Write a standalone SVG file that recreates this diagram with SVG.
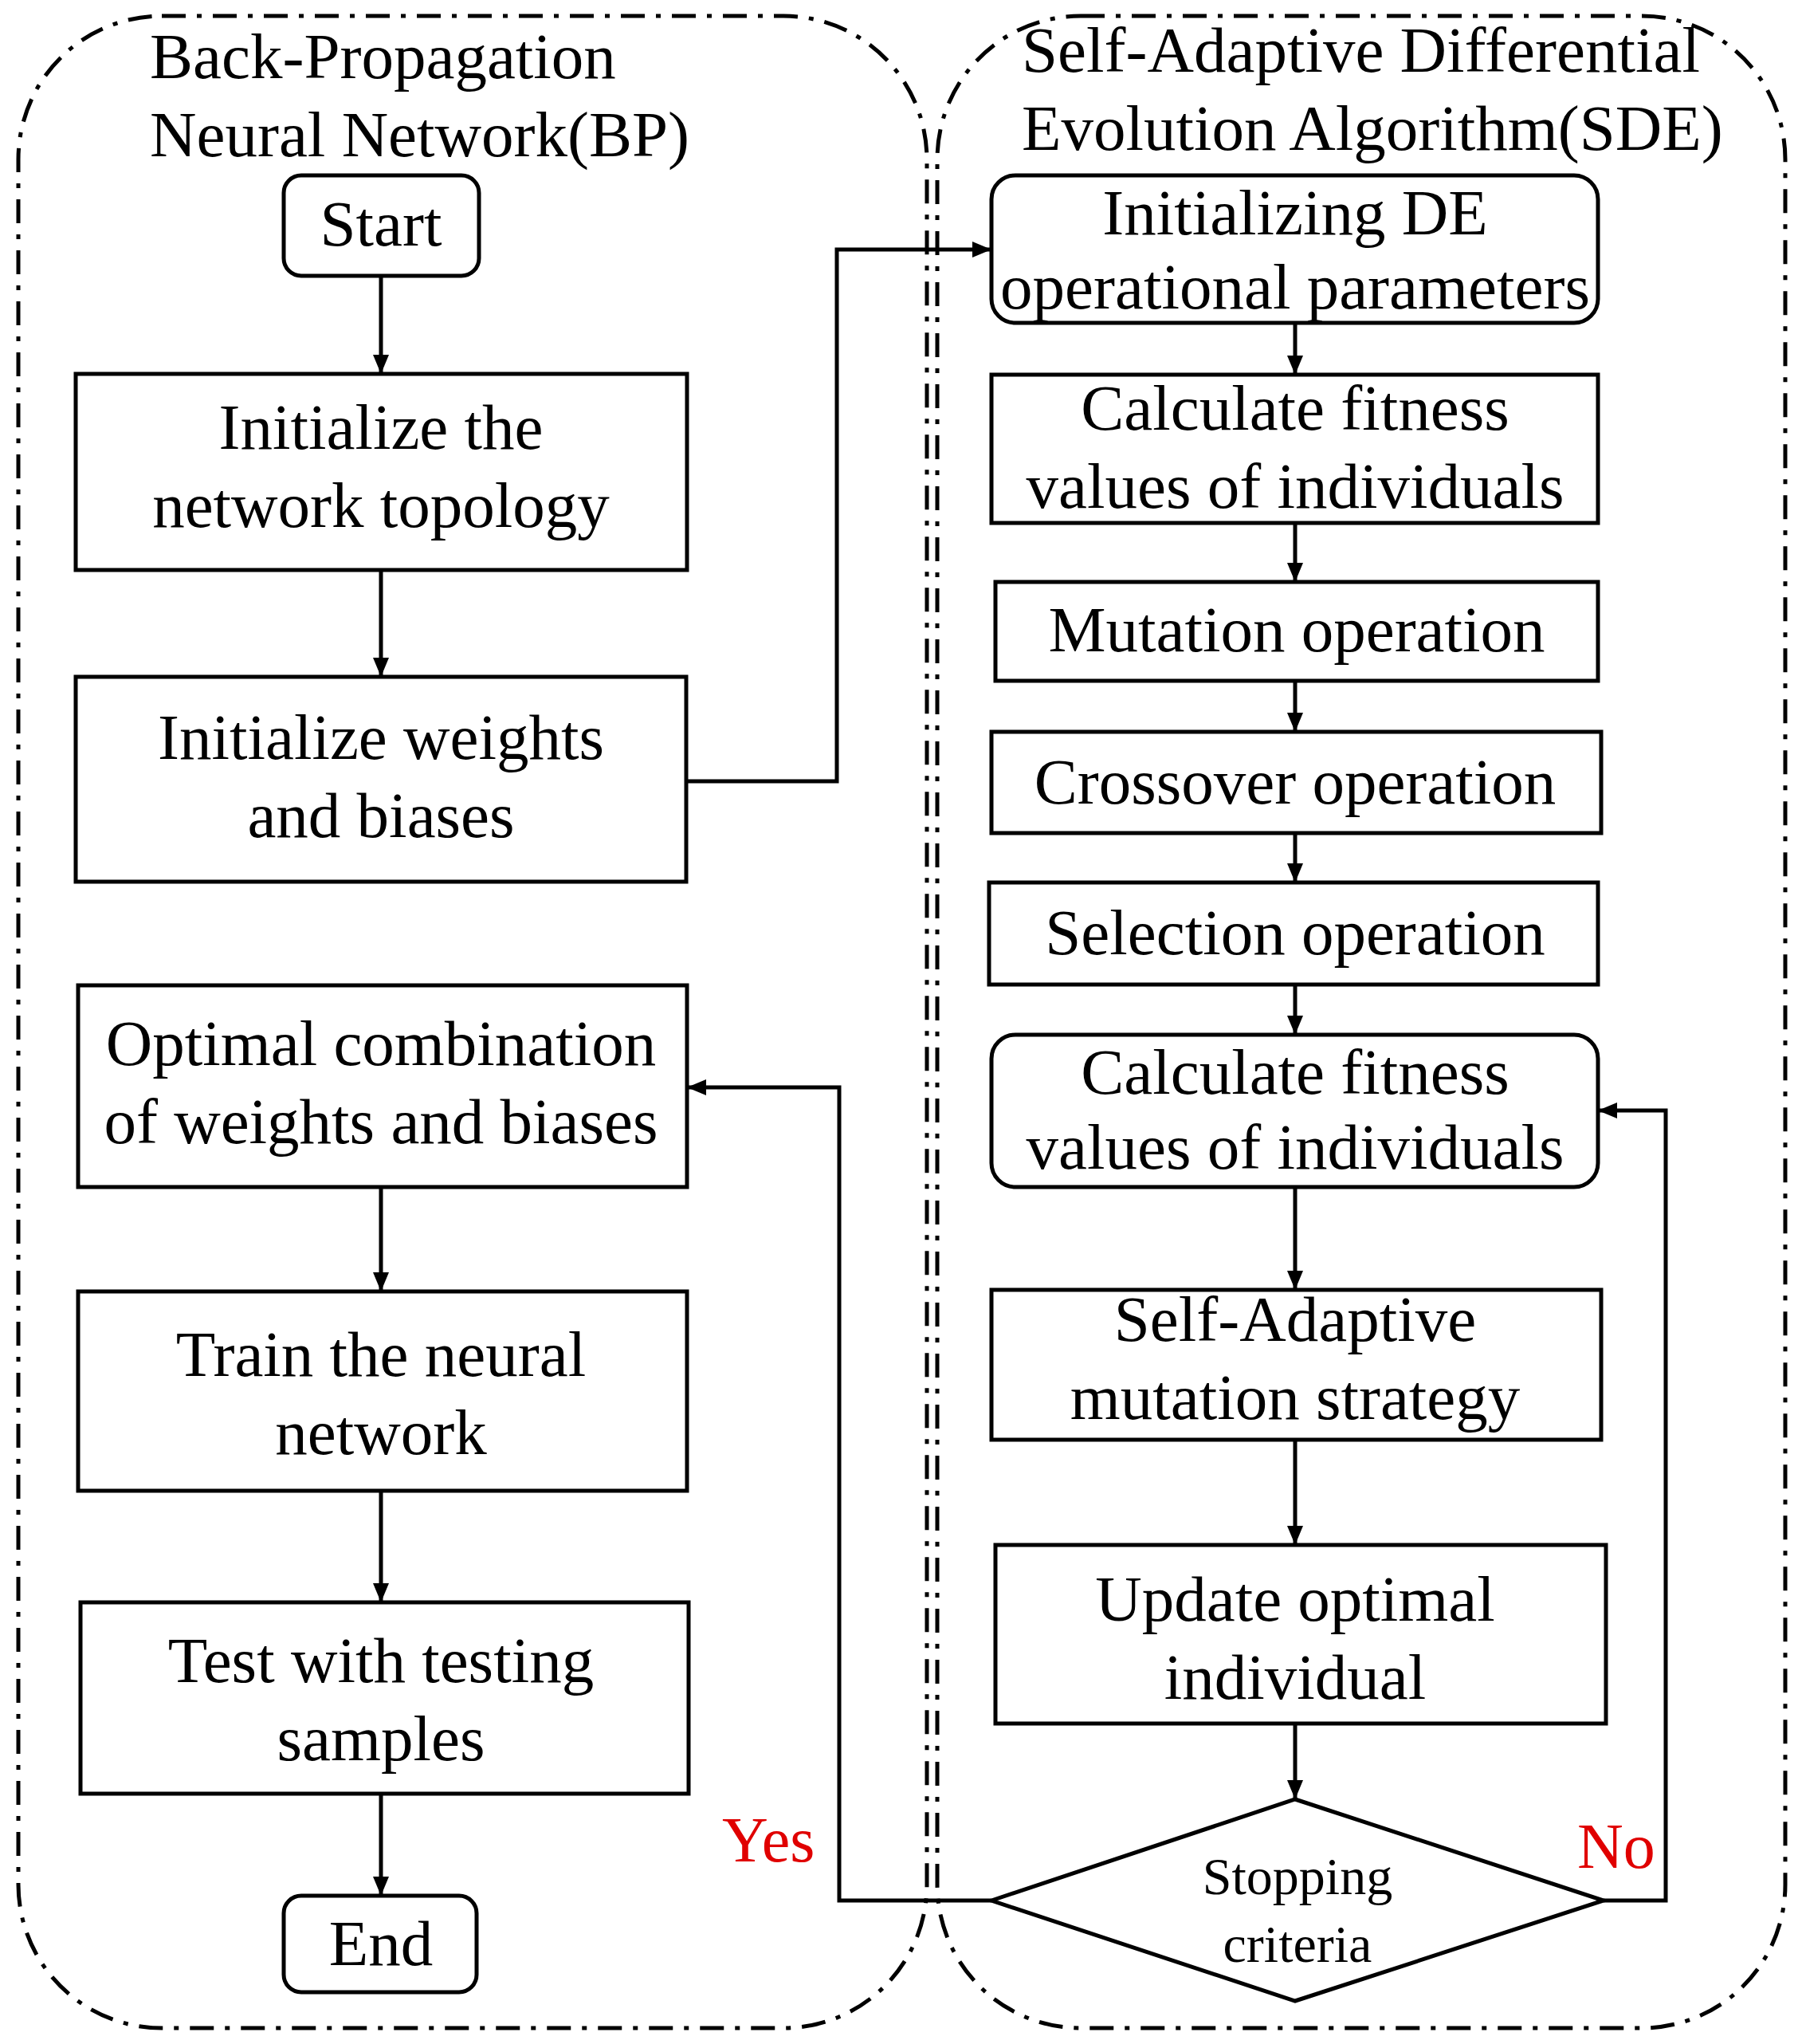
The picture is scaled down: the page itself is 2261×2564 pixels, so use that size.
<svg xmlns="http://www.w3.org/2000/svg" width="2261" height="2564" viewBox="0 0 2261 2564">
<style>
.c{fill:none;stroke:#000;stroke-width:5;stroke-dasharray:30 14 6 14}
.b{fill:#fff;stroke:#000;stroke-width:5}
.t{font-family:"Liberation Serif",serif;font-size:81px;text-anchor:middle;fill:#000}
.h{font-family:"Liberation Serif",serif;font-size:81px;fill:#000}
.l{fill:none;stroke:#000;stroke-width:5}
</style>
<defs>
<marker id="m" viewBox="0 0 24 20" refX="24" refY="10" markerWidth="24" markerHeight="20" markerUnits="userSpaceOnUse" orient="auto"><path d="M0,0L24,10L0,20z"/></marker></defs>
<rect class="c" x="23" y="20" width="1140" height="2524" rx="180"/>
<rect class="c" x="1176" y="20" width="1064" height="2524" rx="180"/>
<text class="h" x="188" y="98">Back-Propagation</text>
<text class="h" x="188" y="196">Neural Network(BP)</text>
<text class="h" x="1282" y="90">Self-Adaptive Differential</text>
<text class="h" x="1282" y="188">Evolution Algorithm(SDE)</text>
<g id="start"><rect class="b" x="356" y="220" width="245" height="126" rx="22"/><text class="t" x="478" y="308">Start</text></g>
<g id="n1"><rect class="b" x="95" y="469" width="767" height="246"/><text class="t" x="478" y="563">Initialize the</text><text class="t" x="478" y="661">network topology</text></g>
<g id="n2"><rect class="b" x="95" y="849" width="766" height="257"/><text class="t" x="478" y="952">Initialize weights</text><text class="t" x="478" y="1050">and biases</text></g>
<g id="n3"><rect class="b" x="98" y="1236" width="764" height="253"/><text class="t" x="478" y="1336">Optimal combination</text><text class="t" x="478" y="1434">of weights and biases</text></g>
<g id="n4"><rect class="b" x="98" y="1620" width="764" height="250"/><text class="t" x="478" y="1726">Train the neural</text><text class="t" x="478" y="1824">network</text></g>
<g id="n5"><rect class="b" x="101" y="2010" width="763" height="240"/><text class="t" x="478" y="2110">Test with testing</text><text class="t" x="478" y="2208">samples</text></g>
<g id="end"><rect class="b" x="356" y="2378" width="242" height="121" rx="22"/><text class="t" x="478" y="2465">End</text></g>
<g id="r1"><rect class="b" x="1244" y="220" width="761" height="185" rx="30"/><text class="t" x="1625" y="294">Initializing DE</text><text class="t" x="1625" y="387">operational parameters</text></g>
<g id="r2"><rect class="b" x="1244" y="470" width="761" height="186"/><text class="t" x="1625" y="539">Calculate fitness</text><text class="t" x="1625" y="637">values of individuals</text></g>
<g id="r3"><rect class="b" x="1249" y="730" width="756" height="124"/><text class="t" x="1627" y="817">Mutation operation</text></g>
<g id="r4"><rect class="b" x="1244" y="918" width="765" height="127"/><text class="t" x="1625" y="1008">Crossover operation</text></g>
<g id="r5"><rect class="b" x="1241" y="1107" width="764" height="128"/><text class="t" x="1625" y="1197">Selection operation</text></g>
<g id="r6"><rect class="b" x="1244" y="1298" width="761" height="191" rx="30"/><text class="t" x="1625" y="1372">Calculate fitness</text><text class="t" x="1625" y="1466">values of individuals</text></g>
<g id="r7"><rect class="b" x="1244" y="1618" width="765" height="188"/><text class="t" x="1625" y="1682">Self-Adaptive</text><text class="t" x="1625" y="1780">mutation strategy</text></g>
<g id="r8"><rect class="b" x="1249" y="1938" width="766" height="224"/><text class="t" x="1625" y="2033">Update optimal</text><text class="t" x="1625" y="2131">individual</text></g>
<g id="d"><polygon class="b" points="1244,2384 1625,2257 2012,2384 1625,2510"/><text class="t" x="1628" y="2376" style="font-size:66px">Stopping</text><text class="t" x="1628" y="2461" style="font-size:66px">criteria</text></g>
<g id="connectors">
<line class="l" x1="478" y1="346" x2="478" y2="469" marker-end="url(#m)"/>
<line class="l" x1="478" y1="715" x2="478" y2="849" marker-end="url(#m)"/>
<line class="l" x1="478" y1="1489" x2="478" y2="1620" marker-end="url(#m)"/>
<line class="l" x1="478" y1="1870" x2="478" y2="2010" marker-end="url(#m)"/>
<line class="l" x1="478" y1="2250" x2="478" y2="2378" marker-end="url(#m)"/>
<line class="l" x1="1625" y1="405" x2="1625" y2="470" marker-end="url(#m)"/>
<line class="l" x1="1625" y1="656" x2="1625" y2="730" marker-end="url(#m)"/>
<line class="l" x1="1625" y1="854" x2="1625" y2="918" marker-end="url(#m)"/>
<line class="l" x1="1625" y1="1045" x2="1625" y2="1107" marker-end="url(#m)"/>
<line class="l" x1="1625" y1="1235" x2="1625" y2="1298" marker-end="url(#m)"/>
<line class="l" x1="1625" y1="1489" x2="1625" y2="1618" marker-end="url(#m)"/>
<line class="l" x1="1625" y1="1806" x2="1625" y2="1938" marker-end="url(#m)"/>
<line class="l" x1="1625" y1="2162" x2="1625" y2="2257" marker-end="url(#m)"/>
<polyline class="l" points="861,980 1050,980 1050,313 1244,313" marker-end="url(#m)"/>
<polyline class="l" points="1244,2384 1053,2384 1053,1364 862,1364" marker-end="url(#m)"/>
<polyline class="l" points="2012,2384 2090,2384 2090,1393 2005,1393" marker-end="url(#m)"/>
</g>
<text x="906" y="2335" style="font-family:'Liberation Serif',serif;font-size:80px;fill:#e00000">Yes</text>
<text x="1979" y="2343" style="font-family:'Liberation Serif',serif;font-size:80px;fill:#e00000">No</text>
</svg>
